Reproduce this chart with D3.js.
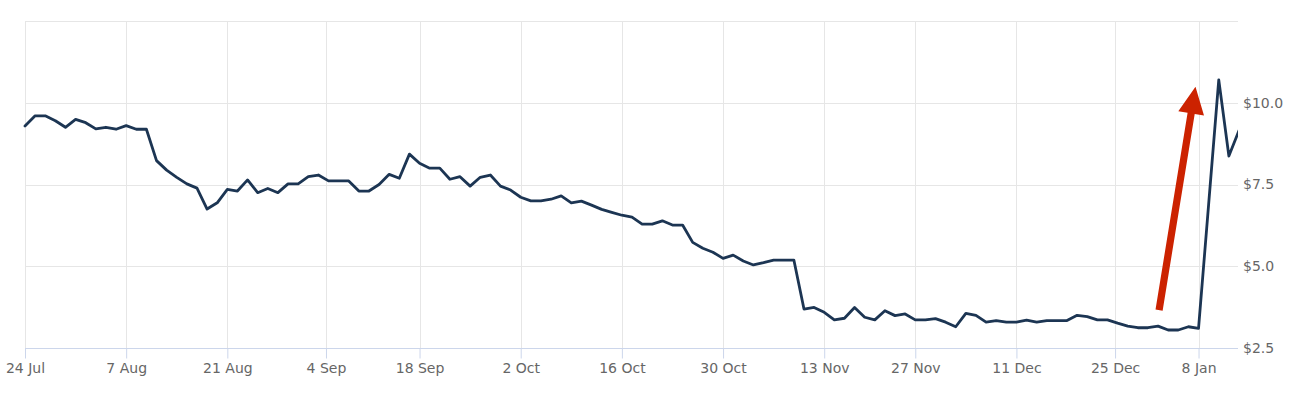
<!DOCTYPE html>
<html>
<head>
<meta charset="utf-8">
<script src="https://cdn.jsdelivr.net/npm/d3@7"></script>
<style>
  html, body { margin: 0; padding: 0; background: #ffffff; }
  svg { display: block; }
  text { font-family: "DejaVu Sans", Verdana, sans-serif; font-size: 14px; fill: #666666; }
</style>
</head>
<body>
<svg id="chart" width="1308" height="400"></svg>
<script>
// ---------- DATA ----------
const startDate = "2017-07-24";
const endDate = "2018-01-12";
const holidays = ["2017-09-04", "2017-11-23", "2017-12-25", "2018-01-01"];

// closing price per trading day (USD)
const prices = [
  9.29, 9.60, 9.60, 9.45, 9.25, 9.49, 9.39, 9.20, 9.25, 9.19,
  9.30, 9.19, 9.19, 8.23, 7.94, 7.72, 7.52, 7.39, 6.75, 6.94,
  7.35, 7.30, 7.64, 7.25, 7.38, 7.25, 7.52, 7.52, 7.74, 7.79,
  7.61, 7.61, 7.61, 7.30, 7.30, 7.50, 7.81, 7.69, 8.43, 8.15,
  8.00, 8.00, 7.66, 7.74, 7.45, 7.72, 7.79, 7.45, 7.33, 7.11,
  7.00, 7.00, 7.05, 7.15, 6.94, 6.99, 6.87, 6.74, 6.65, 6.56,
  6.50, 6.29, 6.29, 6.39, 6.26, 6.26, 5.73, 5.55, 5.43, 5.24,
  5.34, 5.16, 5.04, 5.11, 5.19, 5.19, 5.19, 3.69, 3.74, 3.59,
  3.36, 3.41, 3.74, 3.44, 3.36, 3.64, 3.49, 3.54, 3.36, 3.36,
  3.40, 3.29, 3.15, 3.56, 3.50, 3.29, 3.34, 3.29, 3.29, 3.35,
  3.29, 3.34, 3.34, 3.34, 3.50, 3.46, 3.36, 3.36, 3.26, 3.17,
  3.12, 3.12, 3.17, 3.05, 3.05, 3.15, 3.10, 6.90, 10.70, 8.37,
  9.15
];

const xTickDates = ["2017-07-24", "2017-08-07", "2017-08-21", "2017-09-04", "2017-09-18",
  "2017-10-02", "2017-10-16", "2017-10-30", "2017-11-13", "2017-11-27",
  "2017-12-11", "2017-12-25", "2018-01-08"];
const xTickLabels = ["24 Jul", "7 Aug", "21 Aug", "4 Sep", "18 Sep", "2 Oct", "16 Oct",
  "30 Oct", "13 Nov", "27 Nov", "11 Dec", "25 Dec", "8 Jan"];

const yTicks = [2.5, 5.0, 7.5, 10.0, 12.5];
const yTickLabels = ["$2.5", "$5.0", "$7.5", "$10.0", ""];

// annotation arrow: [trading-day index, price]
const arrowFrom = [112.1, 3.66];
const arrowTo = [115.7, 10.49];

(function () {
// ---------- BUILD TRADING DAYS ----------
const parse = d3.utcParse("%Y-%m-%d");
const fmt = d3.utcFormat("%Y-%m-%d");
const holidaySet = new Set(holidays);
const tradingDays = d3.utcDays(parse(startDate), d3.utcDay.offset(parse(endDate), 1))
  .filter(d => d.getUTCDay() !== 0 && d.getUTCDay() !== 6 && !holidaySet.has(fmt(d)));

const series = prices.map((p, i) => ({ i, date: tradingDays[i], price: p }));

// ordinal position of any calendar date (interpolated for non-trading days)
function ordinalPos(dateStr) {
  const t = parse(dateStr).getTime();
  const times = tradingDays.map(d => d.getTime());
  const k = times.indexOf(t);
  if (k >= 0) return k;
  const nxt = d3.bisectLeft(times, t);
  const prv = nxt - 1;
  return prv + (t - times[prv]) / (times[nxt] - times[prv]);
}

// ---------- LAYOUT ----------
const svg = d3.select("#chart");
const pLeft = 25, pRight = 1239, pTop = 21, pBottom = 348;

const x = d3.scaleLinear().domain([0, prices.length - 1]).range([pLeft, pRight]);
const y = d3.scaleLinear().domain([2.5, 12.5]).range([pBottom, pTop]);

// horizontal grid
svg.append("g").selectAll("line").data(yTicks).join("line")
  .attr("x1", pLeft).attr("x2", pRight - 1)
  .attr("y1", d => Math.round(y(d)) + 0.5).attr("y2", d => Math.round(y(d)) + 0.5)
  .attr("stroke", "#e6e6e6").attr("stroke-width", 1);

// vertical grid
const xTickPos = xTickDates.map(ordinalPos);
svg.append("g").selectAll("line").data(xTickPos).join("line")
  .attr("x1", d => Math.round(x(d)) + 0.5).attr("x2", d => Math.round(x(d)) + 0.5)
  .attr("y1", pTop).attr("y2", pBottom)
  .attr("stroke", "#e6e6e6").attr("stroke-width", 1);

// x axis
const xAxis = d3.axisBottom(x)
  .tickValues(xTickPos)
  .tickFormat((d, k) => xTickLabels[k])
  .tickSize(10).tickPadding(5);
const gx = svg.append("g").attr("transform", `translate(0,${pBottom + 0.5})`).call(xAxis);
gx.select(".domain").attr("stroke", "#ccd6eb").attr("d", `M${pLeft},0H${pRight - 1}`);
gx.selectAll(".tick line").attr("stroke", "#ccd6eb");
gx.selectAll(".tick text").attr("font-family", "DejaVu Sans").attr("font-size", 14).attr("fill", "#666666");

// y axis (right)
const yAxis = d3.axisRight(y)
  .tickValues(yTicks)
  .tickFormat((d, k) => yTickLabels[k])
  .tickSize(0).tickPadding(4);
const gy = svg.append("g").attr("transform", `translate(${pRight},0)`).call(yAxis);
gy.select(".domain").remove();
gy.selectAll(".tick text").attr("font-family", "DejaVu Sans").attr("font-size", 14).attr("fill", "#666666");

// clip
svg.append("clipPath").attr("id", "plotclip").append("rect")
  .attr("x", pLeft - 2).attr("y", pTop - 5).attr("width", pRight - pLeft + 1).attr("height", pBottom - pTop + 10);

// price line
const line = d3.line().x(d => x(d.i)).y(d => y(d.price));
svg.append("path").datum(series)
  .attr("clip-path", "url(#plotclip)")
  .attr("fill", "none").attr("stroke", "#1c3553").attr("stroke-width", 2.8)
  .attr("stroke-linejoin", "round").attr("stroke-linecap", "round")
  .attr("d", line);

// annotation arrow
const x0 = x(arrowFrom[0]), y0 = y(arrowFrom[1]);
const x1 = x(arrowTo[0]), y1 = y(arrowTo[1]);
const ang = Math.atan2(y1 - y0, x1 - x0);
const headLen = 27, headHalf = 13, shaftHalf = 3.6;
const bx = x1 - headLen * Math.cos(ang), by = y1 - headLen * Math.sin(ang);
const nx = -Math.sin(ang), ny = Math.cos(ang);
const pts = [
  [x0 + nx * shaftHalf, y0 + ny * shaftHalf],
  [bx + nx * shaftHalf, by + ny * shaftHalf],
  [bx + nx * headHalf, by + ny * headHalf],
  [x1, y1],
  [bx - nx * headHalf, by - ny * headHalf],
  [bx - nx * shaftHalf, by - ny * shaftHalf],
  [x0 - nx * shaftHalf, y0 - ny * shaftHalf]
];
svg.append("path")
  .attr("d", "M" + pts.map(p => p.join(",")).join("L") + "Z")
  .attr("fill", "#cc2200");
})();
</script>
</body>
</html>
